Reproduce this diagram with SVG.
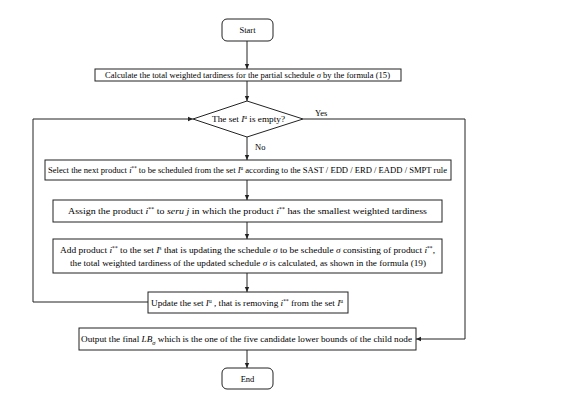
<svg xmlns="http://www.w3.org/2000/svg" width="564" height="401" viewBox="0 0 564 401">
<style>
.b{fill:#fff;stroke:#222;stroke-width:1}
.t{font-family:"Liberation Serif","Times New Roman",serif;fill:#000;font-size:8.5px}
.c{fill:none;stroke:#222;stroke-width:1}
.s{font-size:60%;baseline-shift:super}
.i{font-style:italic}
</style>
<defs>
<marker id="a" markerWidth="6" markerHeight="6" refX="5" refY="3" orient="auto" markerUnits="userSpaceOnUse">
<path d="M0,0.8 L5,3 L0,5.2 Z" fill="#222"/>
</marker>
</defs>
<rect width="564" height="401" fill="#fff"/>
<g id="connectors">
<line class="c" x1="247" y1="41" x2="247" y2="69" marker-end="url(#a)"/>
<line class="c" x1="247" y1="81" x2="247" y2="101" marker-end="url(#a)"/>
<line class="c" x1="247" y1="137" x2="247" y2="160" marker-end="url(#a)"/>
<line class="c" x1="247" y1="180" x2="247" y2="200" marker-end="url(#a)"/>
<line class="c" x1="247" y1="222" x2="247" y2="239" marker-end="url(#a)"/>
<line class="c" x1="247" y1="273" x2="247" y2="292" marker-end="url(#a)"/>
<line class="c" x1="247" y1="350" x2="247" y2="368" marker-end="url(#a)"/>
<polyline class="c" points="148,302 33,302 33,119 193,119" marker-end="url(#a)"/>
<polyline class="c" points="303,119 465,119 465,339 416,339" marker-end="url(#a)"/>
<text class="t" x="315" y="116" font-size="9">Yes</text>
<text class="t" x="255" y="150" font-size="9">No</text>
</g>
<g id="start">
<rect class="b" x="222" y="19" width="51" height="22" rx="5"/>
<text class="t" x="247.5" y="33" text-anchor="middle" font-size="9">Start</text>
</g>
<g id="calc">
<rect class="b" x="95" y="69" width="306" height="12"/>
<text class="t" x="105" y="78" font-size="8" textLength="285" lengthAdjust="spacingAndGlyphs">Calculate the total weighted tardiness for the partial schedule <tspan class="i">σ</tspan> by the formula (15)</text>
</g>
<g id="decision">
<polygon class="b" points="193,119 247,101 303,119 247,137"/>
<text class="t" x="212" y="122" textLength="73" lengthAdjust="spacingAndGlyphs">The set <tspan class="i">I</tspan><tspan class="s">u</tspan> is empty?</text>
</g>
<g id="select">
<rect class="b" x="45" y="160" width="406" height="20"/>
<text class="t" x="48" y="173" font-size="8" textLength="399" lengthAdjust="spacingAndGlyphs">Select the next product <tspan class="i">i</tspan><tspan class="s">**</tspan> to be scheduled from the set <tspan class="i">I</tspan><tspan class="s">u</tspan> according to the SAST / EDD / ERD / EADD / SMPT rule</text>
</g>
<g id="assign">
<rect class="b" x="53" y="200" width="389" height="22"/>
<text class="t" x="68" y="214" font-size="9.5" textLength="359" lengthAdjust="spacingAndGlyphs">Assign the product <tspan class="i">i</tspan><tspan class="s">**</tspan> to <tspan class="i">seru j</tspan> in which the product <tspan class="i">i</tspan><tspan class="s">**</tspan> has the smallest weighted tardiness</text>
</g>
<g id="add">
<rect class="b" x="53" y="239" width="389" height="34"/>
<text class="t" x="60" y="253" font-size="9" textLength="375" lengthAdjust="spacingAndGlyphs">Add product <tspan class="i">i</tspan><tspan class="s">**</tspan> to the set <tspan class="i">I</tspan><tspan class="s">s</tspan> that is updating the schedule <tspan class="i">σ</tspan> to be schedule <tspan class="i">σ</tspan> consisting of product <tspan class="i">i</tspan><tspan class="s">**</tspan>,</text>
<text class="t" x="70" y="266" font-size="9" textLength="356" lengthAdjust="spacingAndGlyphs">the total weighted tardiness of the updated schedule <tspan class="i">σ</tspan> is calculated, as shown in the formula (19)</text>
</g>
<g id="update">
<rect class="b" x="148" y="292" width="200" height="21"/>
<text class="t" x="151" y="305.5" textLength="192" lengthAdjust="spacingAndGlyphs">Update the set <tspan class="i">I</tspan><tspan class="s">u</tspan> , that is removing <tspan class="i">i</tspan><tspan class="s">**</tspan> from the set <tspan class="i">I</tspan><tspan class="s">u</tspan></text>
</g>
<g id="output">
<rect class="b" x="79" y="328" width="337" height="22"/>
<text class="t" x="81" y="342" textLength="331" lengthAdjust="spacingAndGlyphs">Output the final <tspan class="i">LB</tspan><tspan class="i" font-size="70%" baseline-shift="sub">σ</tspan> which is the one of the five candidate lower bounds of the child node</text>
</g>
<g id="end">
<rect class="b" x="222" y="368" width="51" height="21" rx="5"/>
<text class="t" x="247.5" y="381.5" text-anchor="middle" font-size="9">End</text>
</g>
</svg>
